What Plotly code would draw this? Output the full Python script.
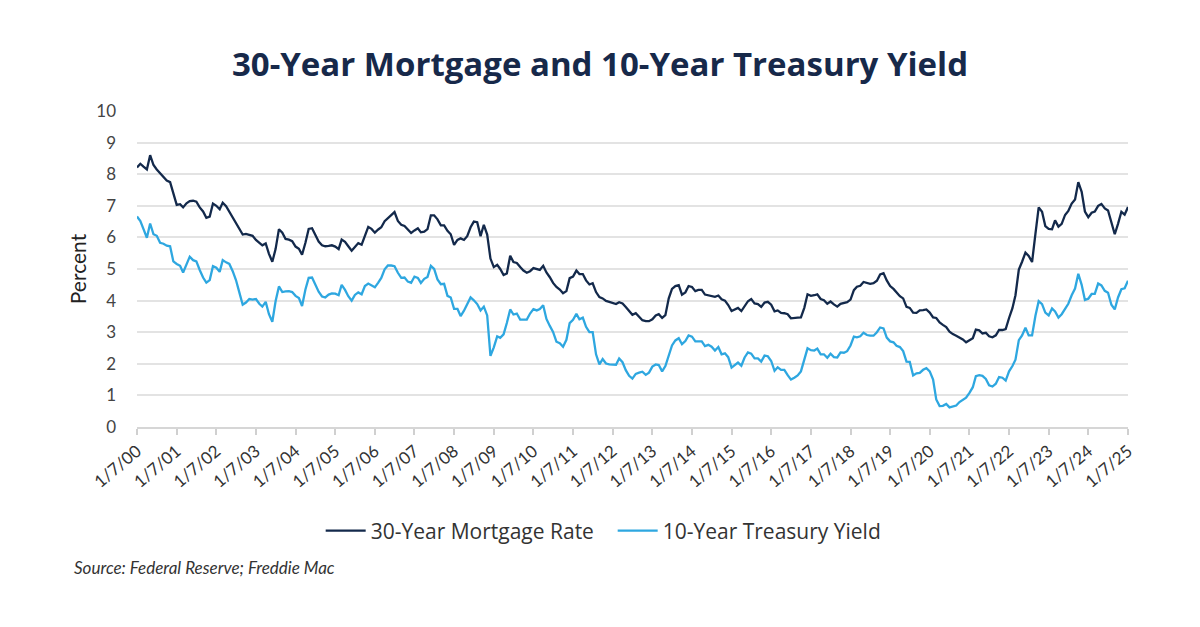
import pandas as pd
import plotly.graph_objects as go

# Monthly readings (Jan 2000 .. Jan 2025), percent
mortgage_by_year = {
    2000: [8.21, 8.33, 8.24, 8.15, 8.60, 8.29, 8.15, 8.03, 7.91, 7.80, 7.75, 7.38],
    2001: [7.03, 7.05, 6.95, 7.08, 7.15, 7.16, 7.13, 6.95, 6.82, 6.62, 6.66, 7.07],
    2002: [7.00, 6.89, 7.10, 6.99, 6.81, 6.65, 6.49, 6.29, 6.09, 6.11, 6.07, 6.05],
    2003: [5.92, 5.84, 5.75, 5.81, 5.48, 5.23, 5.63, 6.26, 6.15, 5.95, 5.93, 5.88],
    2004: [5.71, 5.64, 5.45, 5.83, 6.27, 6.29, 6.06, 5.87, 5.75, 5.72, 5.73, 5.75],
    2005: [5.71, 5.63, 5.93, 5.86, 5.72, 5.58, 5.70, 5.82, 5.77, 6.07, 6.33, 6.27],
    2006: [6.15, 6.25, 6.32, 6.51, 6.60, 6.68, 6.80, 6.52, 6.40, 6.36, 6.24, 6.14],
    2007: [6.22, 6.29, 6.16, 6.18, 6.26, 6.70, 6.70, 6.57, 6.38, 6.38, 6.21, 6.10],
    2008: [5.76, 5.92, 5.97, 5.92, 6.04, 6.32, 6.50, 6.48, 6.04, 6.40, 6.09, 5.33],
    2009: [5.06, 5.13, 5.00, 4.81, 4.86, 5.42, 5.22, 5.19, 5.06, 4.95, 4.88, 4.93],
    2010: [5.03, 4.99, 4.97, 5.10, 4.89, 4.74, 4.56, 4.43, 4.35, 4.23, 4.30, 4.71],
    2011: [4.76, 4.95, 4.84, 4.84, 4.64, 4.51, 4.55, 4.27, 4.11, 4.07, 3.99, 3.96],
    2012: [3.92, 3.89, 3.95, 3.91, 3.80, 3.68, 3.55, 3.60, 3.50, 3.38, 3.35, 3.35],
    2013: [3.41, 3.53, 3.57, 3.45, 3.54, 4.07, 4.37, 4.46, 4.49, 4.19, 4.26, 4.46],
    2014: [4.43, 4.30, 4.34, 4.34, 4.19, 4.16, 4.13, 4.12, 4.16, 4.04, 4.00, 3.86],
    2015: [3.67, 3.71, 3.77, 3.67, 3.84, 3.98, 4.05, 3.91, 3.89, 3.80, 3.94, 3.96],
    2016: [3.87, 3.66, 3.69, 3.61, 3.60, 3.57, 3.44, 3.44, 3.46, 3.47, 3.77, 4.20],
    2017: [4.15, 4.17, 4.20, 4.05, 4.01, 3.90, 3.97, 3.88, 3.81, 3.90, 3.92, 3.95],
    2018: [4.03, 4.33, 4.44, 4.47, 4.59, 4.57, 4.53, 4.55, 4.63, 4.83, 4.87, 4.64],
    2019: [4.46, 4.37, 4.27, 4.14, 4.07, 3.80, 3.77, 3.62, 3.61, 3.69, 3.70, 3.72],
    2020: [3.62, 3.47, 3.45, 3.31, 3.23, 3.16, 3.02, 2.94, 2.89, 2.83, 2.77, 2.68],
    2021: [2.74, 2.81, 3.08, 3.06, 2.96, 2.98, 2.87, 2.84, 2.90, 3.07, 3.07, 3.10],
    2022: [3.45, 3.76, 4.17, 4.98, 5.23, 5.52, 5.41, 5.22, 6.11, 6.95, 6.81, 6.36],
    2023: [6.27, 6.26, 6.54, 6.34, 6.43, 6.71, 6.84, 7.07, 7.20, 7.75, 7.44, 6.82],
    2024: [6.64, 6.78, 6.82, 7.00, 7.06, 6.92, 6.85, 6.50, 6.10, 6.43, 6.81, 6.72],
    2025: [6.96],
}

treasury_by_year = {
    2000: [6.66, 6.52, 6.26, 5.99, 6.44, 6.10, 6.05, 5.83, 5.80, 5.74, 5.72, 5.24],
    2001: [5.16, 5.10, 4.89, 5.14, 5.39, 5.28, 5.24, 4.97, 4.73, 4.57, 4.65, 5.09],
    2002: [5.04, 4.91, 5.28, 5.21, 5.16, 4.93, 4.65, 4.26, 3.87, 3.94, 4.05, 4.03],
    2003: [4.05, 3.90, 3.81, 3.96, 3.57, 3.33, 3.98, 4.45, 4.27, 4.29, 4.30, 4.27],
    2004: [4.15, 4.08, 3.83, 4.35, 4.72, 4.73, 4.50, 4.28, 4.13, 4.10, 4.19, 4.23],
    2005: [4.22, 4.17, 4.50, 4.34, 4.14, 4.00, 4.18, 4.26, 4.20, 4.46, 4.54, 4.47],
    2006: [4.42, 4.57, 4.72, 4.99, 5.11, 5.11, 5.09, 4.88, 4.72, 4.73, 4.60, 4.56],
    2007: [4.76, 4.72, 4.56, 4.69, 4.75, 5.10, 5.00, 4.67, 4.52, 4.53, 4.15, 4.10],
    2008: [3.74, 3.74, 3.51, 3.68, 3.88, 4.10, 4.01, 3.89, 3.69, 3.81, 3.53, 2.25],
    2009: [2.52, 2.87, 2.82, 2.93, 3.29, 3.72, 3.56, 3.59, 3.40, 3.39, 3.40, 3.59],
    2010: [3.73, 3.69, 3.73, 3.85, 3.42, 3.20, 3.01, 2.70, 2.65, 2.54, 2.76, 3.29],
    2011: [3.39, 3.58, 3.41, 3.46, 3.17, 3.00, 3.00, 2.30, 1.98, 2.15, 2.01, 1.98],
    2012: [1.97, 1.97, 2.17, 2.05, 1.80, 1.62, 1.53, 1.68, 1.72, 1.75, 1.65, 1.72],
    2013: [1.91, 1.98, 1.96, 1.76, 1.93, 2.30, 2.58, 2.74, 2.81, 2.62, 2.72, 2.90],
    2014: [2.86, 2.71, 2.72, 2.71, 2.56, 2.60, 2.54, 2.42, 2.53, 2.30, 2.33, 2.21],
    2015: [1.88, 1.98, 2.04, 1.94, 2.20, 2.36, 2.32, 2.17, 2.17, 2.07, 2.26, 2.24],
    2016: [2.09, 1.78, 1.89, 1.81, 1.81, 1.64, 1.50, 1.56, 1.63, 1.76, 2.14, 2.49],
    2017: [2.43, 2.42, 2.48, 2.30, 2.30, 2.19, 2.32, 2.21, 2.20, 2.36, 2.35, 2.40],
    2018: [2.58, 2.86, 2.84, 2.87, 2.98, 2.91, 2.89, 2.89, 3.00, 3.15, 3.12, 2.83],
    2019: [2.71, 2.68, 2.57, 2.53, 2.40, 2.07, 2.06, 1.63, 1.70, 1.71, 1.81, 1.86],
    2020: [1.76, 1.50, 0.87, 0.66, 0.67, 0.73, 0.62, 0.65, 0.68, 0.79, 0.87, 0.93],
    2021: [1.08, 1.26, 1.61, 1.64, 1.62, 1.52, 1.32, 1.28, 1.37, 1.58, 1.56, 1.47],
    2022: [1.76, 1.93, 2.13, 2.75, 2.90, 3.14, 2.90, 2.90, 3.52, 3.98, 3.89, 3.62],
    2023: [3.53, 3.75, 3.66, 3.46, 3.57, 3.75, 3.90, 4.17, 4.38, 4.85, 4.50, 4.02],
    2024: [4.06, 4.21, 4.21, 4.54, 4.48, 4.31, 4.25, 3.87, 3.72, 4.10, 4.36, 4.39],
    2025: [4.63],
}

mortgage = [v for y in sorted(mortgage_by_year) for v in mortgage_by_year[y]]
treasury = [v for y in sorted(treasury_by_year) for v in treasury_by_year[y]]
dates = [pd.Timestamp(2000, 1, 7) + pd.DateOffset(months=i) for i in range(len(mortgage))]

tick_years = list(range(2000, 2026))
tick_vals = [pd.Timestamp(y, 1, 7) for y in tick_years]
tick_text = [f"1/7/{y % 100:02d}" for y in tick_years]

NAVY = "#13294b"
BLUE = "#2ea7e0"
FONT = "Lato"

fig = go.Figure()
fig.add_trace(go.Scatter(x=dates, y=mortgage, mode="lines", name="30-Year Mortgage Rate",
                         line=dict(color=NAVY, width=2.3)))
fig.add_trace(go.Scatter(x=dates, y=treasury, mode="lines", name="10-Year Treasury Yield",
                         line=dict(color=BLUE, width=2.3)))

fig.update_layout(
    width=1200, height=627,
    margin=dict(l=137, r=72, t=111, b=200),
    paper_bgcolor="white", plot_bgcolor="white",
    font=dict(family=FONT, color="#333333"),
    title=dict(text="30-Year Mortgage and 10-Year Treasury Yield",
               x=0.5, xanchor="center", y=0.898, yanchor="middle",
               font=dict(family="Open Sans", size=33, color="#17294a", weight="bold")),
    legend=dict(orientation="h", x=0.480, xanchor="center", y=-0.329, yanchor="middle",
                font=dict(family="Open Sans", size=21, color="#333333"),
                itemwidth=40, tracegroupgap=0, entrywidth=237),
    showlegend=True,
)
fig.update_xaxes(
    type="date",
    range=[tick_vals[0], tick_vals[-1]],
    tickmode="array", tickvals=tick_vals, ticktext=tick_text,
    tickangle=-40, tickfont=dict(family=FONT, size=17, color="#333333"),
    ticks="outside", ticklen=6, tickcolor="#d0d0d0", tickwidth=1.5,
    showline=True, linecolor="#d6d6d6", linewidth=1.5,
    showgrid=False, zeroline=False,
)
fig.update_yaxes(
    range=[0, 10], tickvals=list(range(0, 11)),
    tickfont=dict(family=FONT, size=17, color="#444444"),
    showgrid=True, gridcolor="#e3e3e3", gridwidth=1.5,
    zeroline=False, showline=False, ticks="", ticklabelstandoff=20,
    title=dict(text="Percent", font=dict(family=FONT, size=21, color="#222222"), standoff=3),
)

fig.add_annotation(text="<i>Source: Federal Reserve; Freddie Mac</i>",
                   xref="paper", yref="paper", x=-0.066, y=-0.446,
                   xanchor="left", yanchor="middle", showarrow=False,
                   font=dict(family=FONT, size=17, color="#333333"))

fig.write_html("out.html")
